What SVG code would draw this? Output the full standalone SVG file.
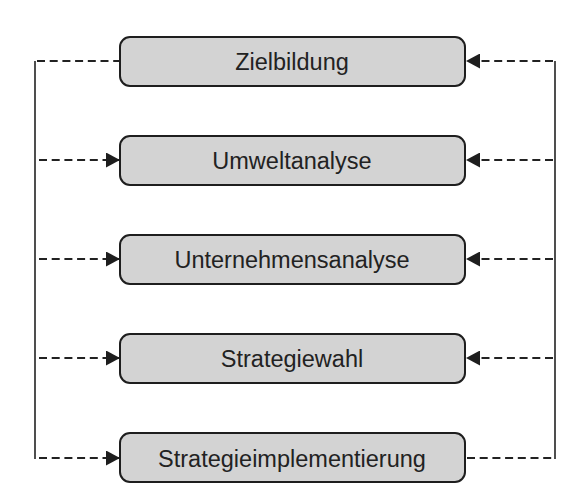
<svg xmlns="http://www.w3.org/2000/svg" width="577" height="497" viewBox="0 0 577 497">
<style>
.box{fill:#d3d3d3;stroke:#1e1e1e;stroke-width:2}
.lbl{font-family:"Liberation Sans",Arial,sans-serif;font-size:23.5px;fill:#222;text-anchor:middle}
.dash{fill:none;stroke:#222;stroke-width:1.8;stroke-dasharray:8,4.7}
.solid{fill:none;stroke:#222;stroke-width:1.6}
</style>
<defs>
<marker id="ah" viewBox="0 0 14 15" refX="14" refY="7.5" markerWidth="14" markerHeight="15" markerUnits="userSpaceOnUse" orient="auto">
<path d="M0,0 L14,7.5 L0,15 Z" fill="#1e1e1e"/>
</marker>
</defs>
<rect width="577" height="497" fill="#fff"/>
<g id="connectors">
<line class="solid" x1="35" y1="61" x2="35" y2="459"/>
<line class="solid" x1="555" y1="61" x2="555" y2="459"/>
<line class="dash" x1="37" y1="61" x2="120" y2="61"/>
<line class="dash" x1="39" y1="160" x2="120" y2="160" marker-end="url(#ah)"/>
<line class="dash" x1="39" y1="259" x2="120" y2="259" marker-end="url(#ah)"/>
<line class="dash" x1="39" y1="358" x2="120" y2="358" marker-end="url(#ah)"/>
<line class="dash" x1="39" y1="458" x2="120" y2="458" marker-end="url(#ah)"/>
<line class="dash" x1="553" y1="61" x2="466" y2="61" marker-end="url(#ah)"/>
<line class="dash" x1="553" y1="160" x2="466" y2="160" marker-end="url(#ah)"/>
<line class="dash" x1="553" y1="259" x2="466" y2="259" marker-end="url(#ah)"/>
<line class="dash" x1="553" y1="358" x2="466" y2="358" marker-end="url(#ah)"/>
<line class="dash" x1="467" y1="458" x2="553" y2="458"/>
</g>
<g id="n1"><rect class="box" x="120" y="37" width="345" height="49" rx="10"/><text class="lbl" x="292" y="70">Zielbildung</text></g>
<g id="n2"><rect class="box" x="120" y="136" width="345" height="49" rx="10"/><text class="lbl" x="292" y="169">Umweltanalyse</text></g>
<g id="n3"><rect class="box" x="120" y="235" width="345" height="49" rx="10"/><text class="lbl" x="292" y="268">Unternehmensanalyse</text></g>
<g id="n4"><rect class="box" x="120" y="334" width="345" height="49" rx="10"/><text class="lbl" x="292" y="367">Strategiewahl</text></g>
<g id="n5"><rect class="box" x="120" y="433" width="345" height="49" rx="10"/><text class="lbl" x="292" y="467">Strategieimplementierung</text></g>
</svg>
